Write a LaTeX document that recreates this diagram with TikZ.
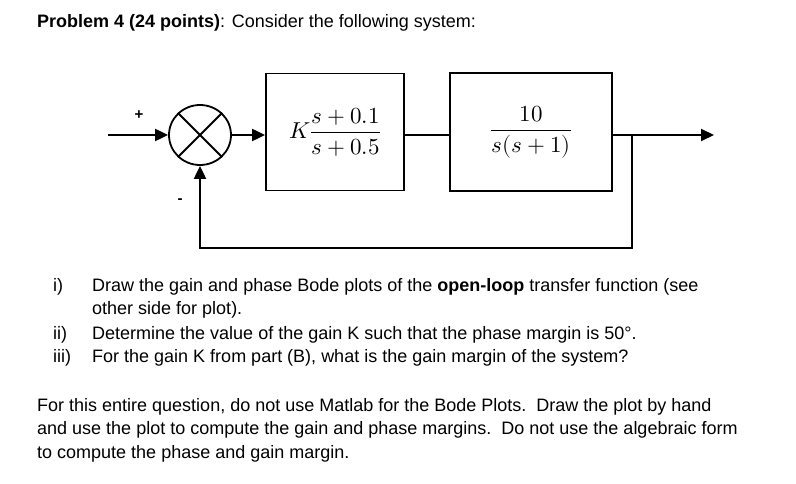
\documentclass[tikz,border=0pt]{standalone}
\usepackage{fontspec}
\setmainfont{Liberation Sans}
\usepackage{unicode-math}
\setmathfont{Latin Modern Math}
\usetikzlibrary{arrows.meta,shapes.geometric}
\begin{document}
\begin{tikzpicture}[x=1pt,y=-1pt,
  txt/.style={anchor=base west,inner sep=0,font=\fontsize{18}{21}\selectfont},
  blk/.style={draw,line width=1.8pt,inner sep=0},
  ln/.style={line width=2pt},
  arr/.style={ln,-{Triangle[length=13pt,width=12pt]}}]
\useasboundingbox (0,0) rectangle (796,484);
\node[txt] (title) at (37,28) {\textbf{Problem 4 (24 points)}: Consider the following system:};
\node[draw,ellipse,line width=1.8pt,minimum width=62pt,minimum height=60pt,inner sep=0] (sum) at (200,135) {};
\draw[line width=1.8pt] (sum.45) -- (sum.225) (sum.135) -- (sum.315);
\node[blk,minimum width=138pt,minimum height=117pt] (g1) at (335,132) {\fontsize{23}{26}\selectfont$K\dfrac{s+0.1}{s+0.5}$};
\node[blk,minimum width=162pt,minimum height=118pt] (g2) at (531,132) {\fontsize{23}{26}\selectfont$\dfrac{10}{s(s+1)}$};
\coordinate (in) at (108,135);
\coordinate (br) at (632,135);
\coordinate (out) at (714,135);
\coordinate (fb) at (632,248);
\draw[arr] (in) -- (sum.west);
\draw[arr] (sum.east) -- (g1.west|-sum.east);
\draw[ln] (g1.east|-in) -- (g2.west|-in);
\draw[arr] (g2.east|-in) -- (out);
\draw[arr] (br) -- (fb) -| (sum.south);
\node[inner sep=0,font=\bfseries\fontsize{15}{16}\selectfont] (plus) at (139,115) {+};
\node[inner sep=0,font=\bfseries\fontsize{15}{16}\selectfont] (minus) at (180,201) {-};
\node[txt] (l1) at (53,291) {i)};
\node[txt] (t1) at (92,291) {Draw the gain and phase Bode plots of the \textbf{open-loop} transfer function (see};
\node[txt] (t1b) at (92,314) {other side for plot).};
\node[txt] (l2) at (53,339) {ii)};
\node[txt] (t2) at (92,339) {Determine the value of the gain K such that the phase margin is 50°.};
\node[txt] (l3) at (53,362) {iii)};
\node[txt] (t3) at (92,362) {For the gain K from part (B), what is the gain margin of the system?};
\node[txt] (p1) at (37,411) {For this entire question, do not use Matlab for the Bode Plots.\ \ Draw the plot by hand};
\node[txt] (p2) at (37,434) {and use the plot to compute the gain and phase margins.\ \ Do not use the algebraic form};
\node[txt] (p3) at (37,458) {to compute the phase and gain margin.};
\end{tikzpicture}
\end{document}
